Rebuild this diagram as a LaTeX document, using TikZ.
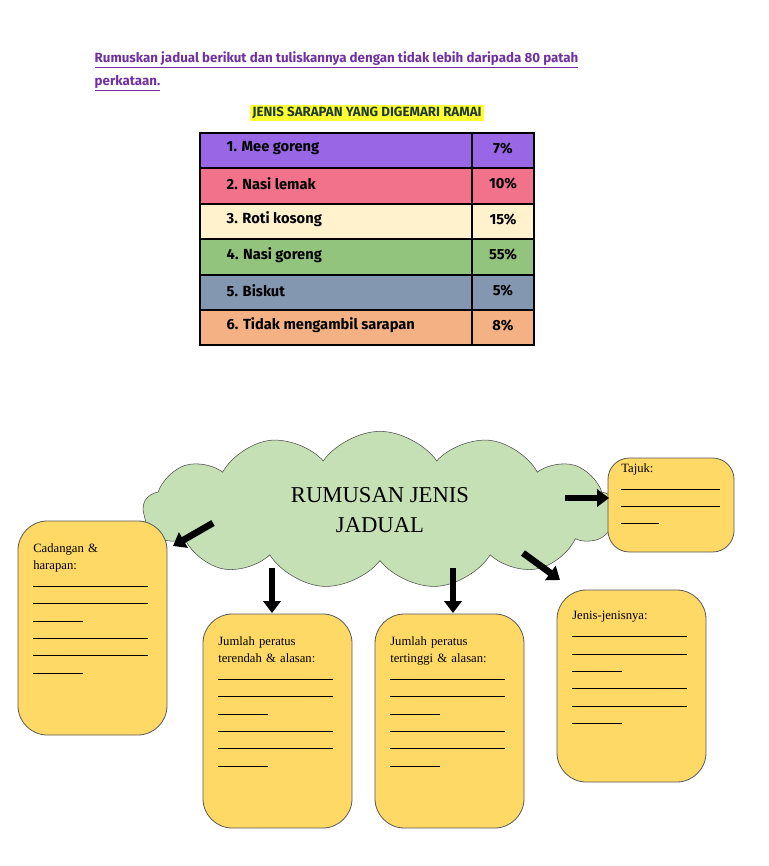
\documentclass[tikz,border=0pt]{standalone}
\usepackage{fontspec}
\setmainfont{Liberation Serif}
\newfontfamily\comic{Fira Sans}
\usetikzlibrary{shapes.symbols,arrows.meta}
\definecolor{ttl}{HTML}{7030A0}
\definecolor{cpur}{HTML}{9966E6}
\definecolor{cpink}{HTML}{F2728C}
\definecolor{ccream}{HTML}{FFF2CC}
\definecolor{cgreen}{HTML}{93C47D}
\definecolor{cgrey}{HTML}{8497B0}
\definecolor{corange}{HTML}{F4B183}
\definecolor{cloudc}{HTML}{C5E0B4}
\definecolor{boxc}{HTML}{FFD966}
\definecolor{hl}{HTML}{FFFF33}
\definecolor{tg}{HTML}{1F3B2F}
\tikzset{
 cell/.style={draw=black, line width=0.8pt},
 celltext/.style={anchor=west, font=\comic\bfseries\fontsize{11}{13}\selectfont},
 pct/.style={anchor=center, font=\comic\bfseries\fontsize{11}{13}\selectfont},
 ybox/.style={draw=gray!70!black, fill=boxc, rounded corners=22pt, line width=0.6pt},
 btxt/.style={anchor=north west, align=left, font=\fontsize{9.5}{13}\selectfont, text width=88pt, inner sep=0pt},
 blk/.style={line width=5pt, -{Triangle[width=13pt,length=9pt]}}
}
\newcommand{\LL}{\rule{86pt}{0.5pt}}
\newcommand{\SL}{\rule{37pt}{0.5pt}}
\begin{document}
\begin{tikzpicture}[x=0.75pt,y=-0.75pt]
\useasboundingbox (0,0) rectangle (768,866);
% header
\node[anchor=west, text=ttl, font=\comic\bfseries\fontsize{10}{12}\selectfont] (h1) at (90,60) {\underline{Rumuskan jadual berikut dan tuliskannya dengan tidak lebih daripada 80 patah}};
\node[anchor=west, text=ttl, font=\comic\bfseries\fontsize{10}{12}\selectfont] (h2) at (90,83) {\underline{perkataan.}};
\node[fill=hl, text=tg, inner sep=1.5pt, font=\comic\bfseries\fontsize{10}{12}\selectfont] (tt) at (367,113) {JENIS SARAPAN YANG DIGEMARI RAMAI};
% table
\foreach \ya/\yb/\c/\t/\p [count=\i] in {133/168/cpur/1. Mee goreng/7\%,168/204/cpink/2. Nasi lemak/10\%,204/239/ccream/3. Roti kosong/15\%,239/275/cgreen/4. Nasi goreng/55\%,275/310/cgrey/5. Biskut/5\%,310/345/corange/6. Tidak mengambil sarapan/8\%}{
 \draw[cell, fill=\c] (200,\ya) rectangle (472,\yb);
 \draw[cell, fill=\c] (472,\ya) rectangle (534,\yb);
 \node[celltext] (r\i) at (222,{(\ya+\yb)/2-2}) {\t};
 \node[pct] (p\i) at (503,{(\ya+\yb)/2-2}) {\p};
}
% cloud
\node[cloud, cloud puffs=13, cloud puff arc=110, aspect=3.2, draw=gray!60!black, fill=cloudc, minimum width=355pt*0.75/0.75, minimum height=118, inner sep=0pt, align=center, font=\fontsize{17}{22}\selectfont] (cl) at (380,510) {RUMUSAN JENIS\\JADUAL};
% boxes
\draw[ybox] (18,521) rectangle (167,735);
\node[btxt] (b1) at (33,543) {Cadangan \&\\harapan:\\\LL\\\LL\\\SL\\\LL\\\LL\\\SL};
\draw[ybox] (203,614) rectangle (352,828);
\node[btxt] (b2) at (218,636) {Jumlah peratus\\terendah \& alasan:\\\LL\\\LL\\\SL\\\LL\\\LL\\\SL};
\draw[ybox] (375,614) rectangle (524,828);
\node[btxt] (b3) at (390,636) {Jumlah peratus\\tertinggi \& alasan:\\\LL\\\LL\\\SL\\\LL\\\LL\\\SL};
\draw[ybox] (557,590) rectangle (706,782);
\node[btxt] (b4) at (572,611) {Jenis-jenisnya:\\\LL\\\LL\\\SL\\\LL\\\LL\\\SL};
\draw[ybox, rounded corners=16pt] (608,458) rectangle (734,552);
\node[btxt, text width=76pt] (b5) at (621,463) {Tajuk:\\\rule{74pt}{0.5pt}\\\rule{74pt}{0.5pt}\\\rule{28pt}{0.5pt}};
% arrows
\coordinate (a1s) at (213,523); \coordinate (a1e) at (173,546);
\coordinate (a2s) at (272,568); \coordinate (a2e) at (272,613);
\coordinate (a3s) at (453,568); \coordinate (a3e) at (453,613);
\coordinate (a4s) at (523,553); \coordinate (a4e) at (560,580);
\coordinate (a5s) at (565,498); \coordinate (a5e) at (609,498);
\foreach \a in {1,...,5}{\draw[blk] (a\a s) -- (a\a e);}
\end{tikzpicture}
\end{document}
